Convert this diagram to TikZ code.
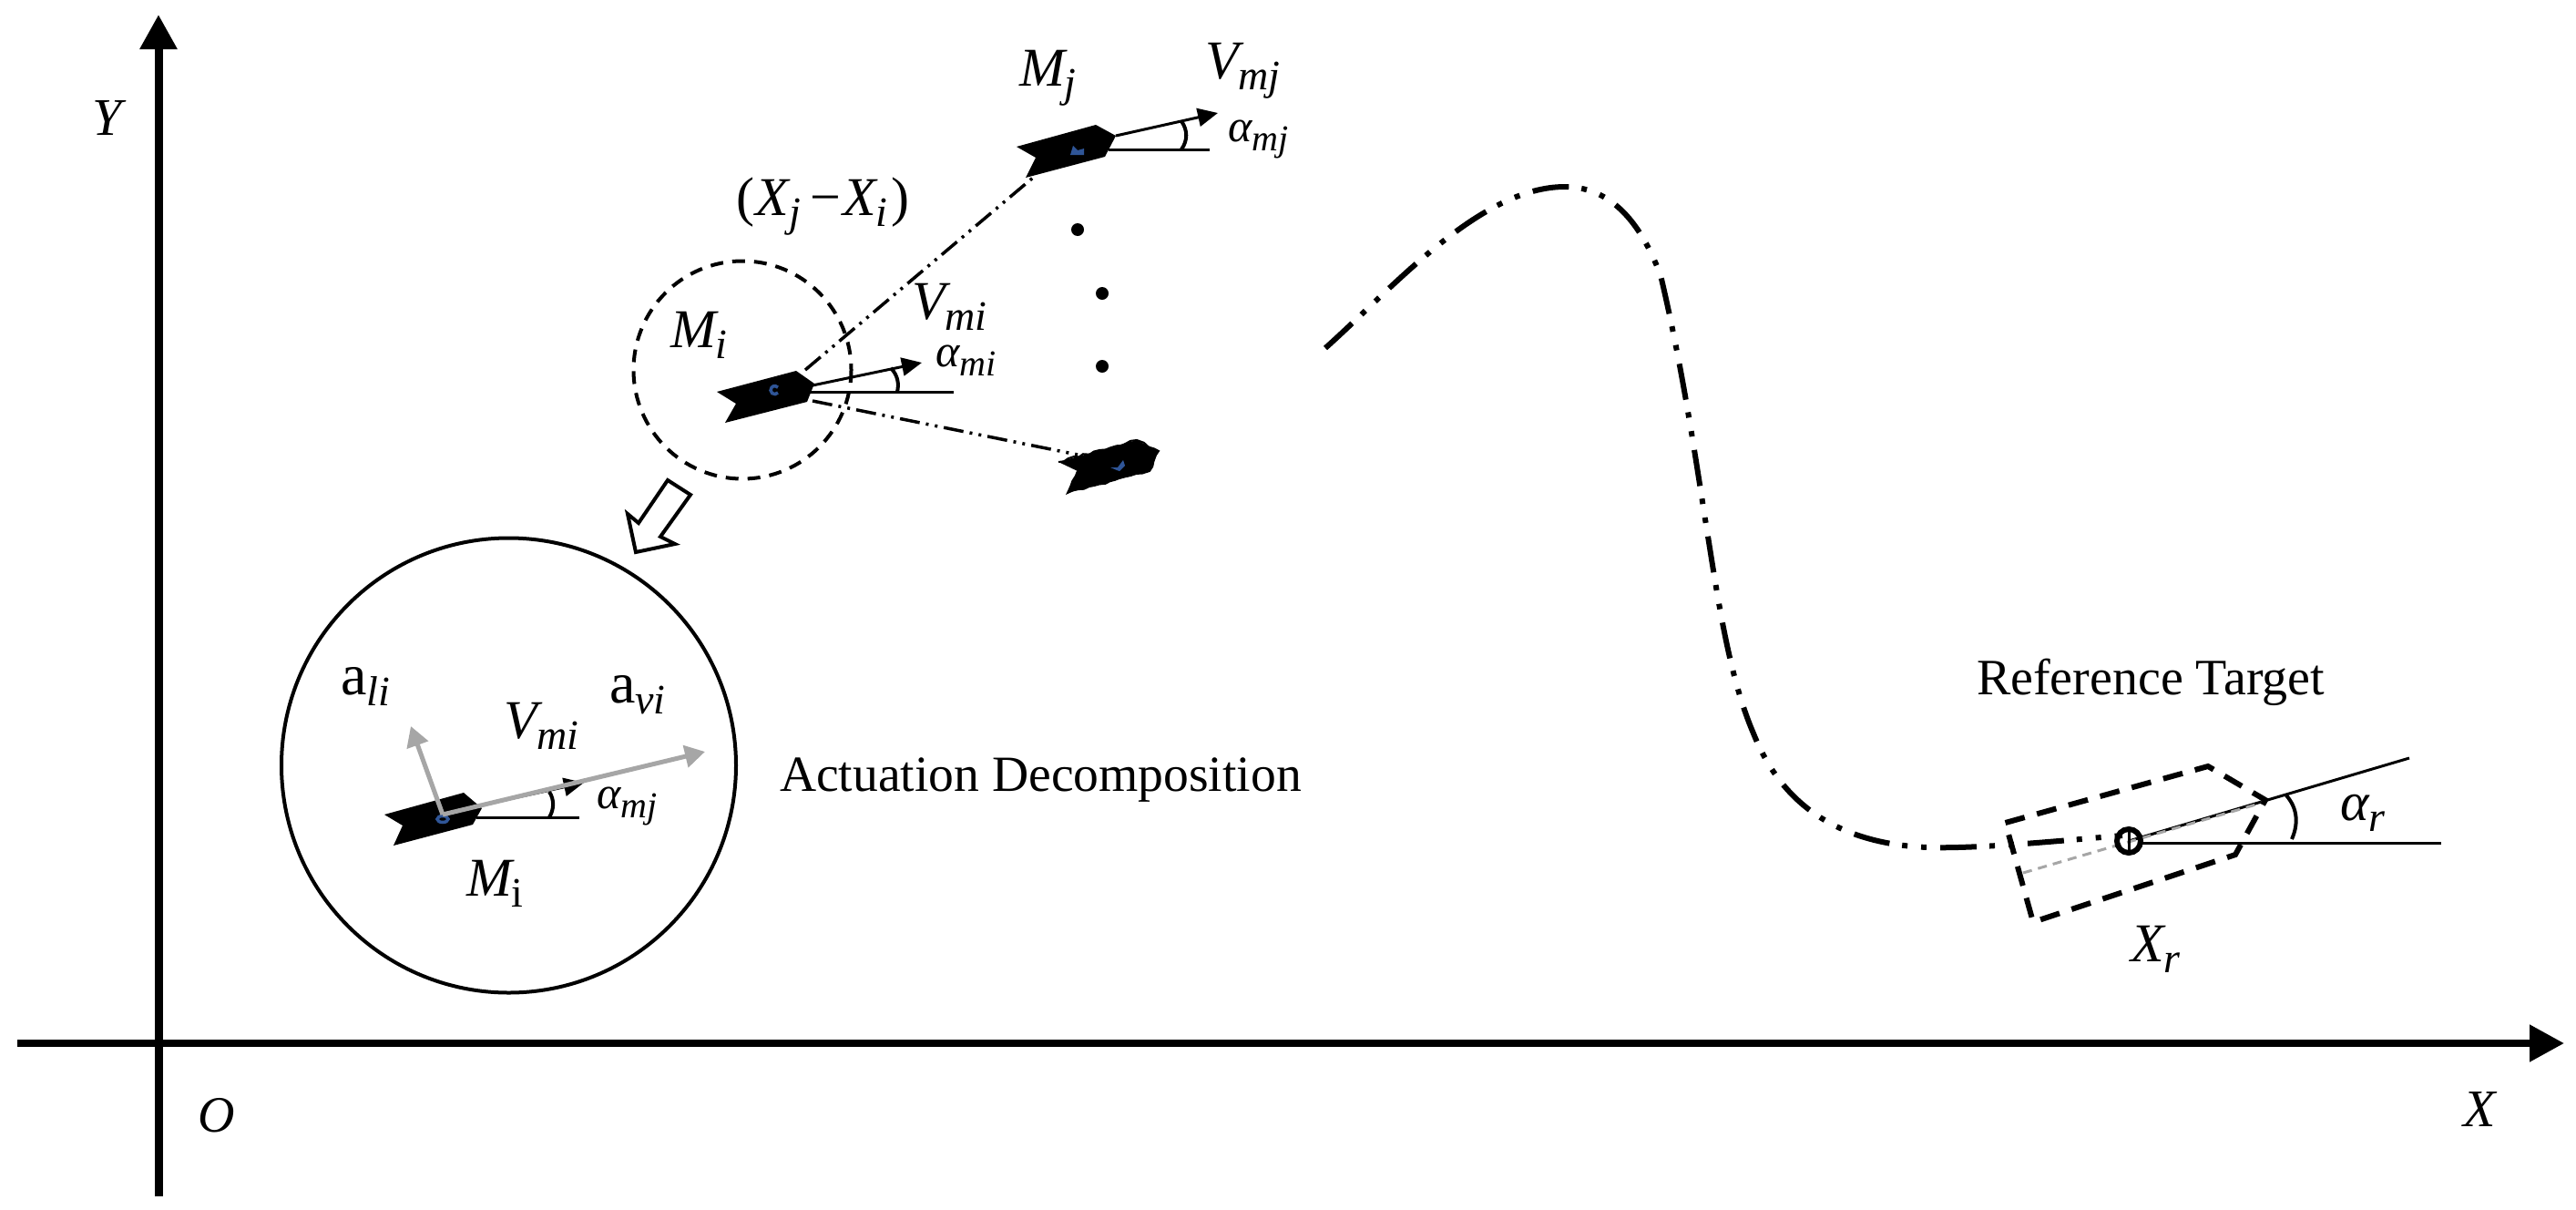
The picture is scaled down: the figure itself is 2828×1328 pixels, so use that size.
\documentclass[tikz,border=0pt]{standalone}
\usepackage{fontspec}
\setmainfont{Liberation Serif}
\usetikzlibrary{arrows.meta,decorations.pathmorphing}
\newcommand{\SzB}{\fontsize{30}{30}\selectfont}
\newcommand{\SzM}{\fontsize{25}{25}\selectfont}
\newcommand{\SzSb}{\fontsize{23}{23}\selectfont}
\newcommand{\SzSs}{\fontsize{20}{20}\selectfont}
\newcommand{\LblB}[2]{{\SzB\itshape #1\raisebox{-6pt}{\SzSb #2}}}
\newcommand{\LblS}[2]{{\SzM\itshape #1\raisebox{-5pt}{\SzSs #2}}}
\definecolor{shipblue}{HTML}{2F5597}
\definecolor{arrowgray}{HTML}{A6A6A6}
\tikzset{
  lab/.style={anchor=base west,inner sep=0pt,outer sep=0pt,text=black},
  axisline/.style={line width=4pt,-{Triangle[length=19pt,width=19.5pt]}},
  vecline/.style={line width=1.5pt,-{Triangle[length=11pt,width=10pt]}},
  grayvec/.style={line width=2.5pt,arrowgray,-{Triangle[length=11pt,width=12pt]}},
  refline/.style={line width=1.5pt},
  anglearc/.style={line width=2pt},
  linkline/.style={line width=1.75pt,dash pattern=on 11pt off 3.5pt on 1.5pt off 3.5pt on 1.5pt off 3.5pt},
  trajline/.style={line width=3pt,dash pattern=on 20pt off 7pt on 3pt off 7.5pt on 3pt off 7.5pt},
  shipbody/.style={fill=black,draw=none},
  boxdash/.style={line width=3pt,dash pattern=on 11pt off 7pt},
  circdash/.style={line width=2pt,dash pattern=on 7pt off 5pt},
}
\begin{document}
\begin{tikzpicture}[x=0.5pt,y=-0.5pt]
\useasboundingbox (0,0) rectangle (2828,1328);
\fill[white] (0,0) rectangle (2828,1328);
% axes
\coordinate (xs) at (19,1145); \coordinate (xe) at (2815,1145);
\coordinate (ys) at (174,1313); \coordinate (ye) at (174,16);
\draw[axisline] (xs) -- (xe);
\draw[axisline,line width=4.5pt] (ys) -- (ye);
\node[lab] (ylab) at (101,148) {\fontsize{29}{29}\selectfont\itshape Y};
\node[lab] (xlab) at (2704,1236) {\fontsize{29}{29}\selectfont\itshape X};
\node[lab] (olab) at (217,1242) {\fontsize{28}{28}\selectfont\itshape O};
% ship j
\fill[shipbody] (1116,161) -- (1137,173) -- (1126,195) -- (1213,172) -- (1225,149) -- (1203,137) -- cycle;
\fill[shipblue] (1175,170) -- (1190,170) -- (1190,163) -- (1183,165) -- (1178,160) -- cycle;
\coordinate (jnose) at (1225,149); \coordinate (jtip) at (1337,124);
\coordinate (jtail) at (1134,195); \coordinate (jref) at (1217,164); \coordinate (jrefe) at (1328,164);
\draw[vecline] (jnose) -- (jtip);
\draw[refline] (jref) -- (jrefe);
\draw[anglearc] (1297,133) .. controls (1304,143) and (1304,154) .. (1297,164);
\node[lab] (mj) at (1119,94) {\LblB{M}{j}};
\node[lab] (vmj) at (1323,86) {\LblB{V}{mj}};
\node[lab] (amj) at (1348,155) {\LblS{α}{mj}};
% dots
\fill (1183,252) circle (7);
\fill (1210,322) circle (7);
\fill (1210,402) circle (7);
\node[lab] (xji) at (808,236) {\SzB (\kern1pt{\itshape X\raisebox{-6pt}{\SzSb j}}\kern5pt−\kern1pt{\itshape X\raisebox{-6pt}{\SzSb i}}\kern2pt)};
% ship i
\draw[circdash] (815,406) circle (119.5);
\fill[shipbody] (787,430) -- (808,443) -- (796,464) -- (886,441) -- (894,421) -- (874,407) -- cycle;
\draw[shipblue,line width=1.75pt] (854,431) arc (40:320:4.5);
\coordinate (inose) at (892,423); \coordinate (itip) at (1012,398);
\coordinate (itop) at (884,406); \coordinate (ibot) at (892,440);
\coordinate (iref) at (887,430); \coordinate (irefe) at (1047,430);
\draw[vecline] (inose) -- (itip);
\draw[refline] (iref) -- (irefe);
\draw[anglearc] (978,404) .. controls (986,412) and (987,422) .. (985,430);
\node[lab] (mi) at (736,381) {\LblB{M}{i}};
\node[lab] (vmi) at (1001,350) {\LblB{V}{mi}};
\node[lab] (ami) at (1027,402) {\LblS{α}{mi}};
\draw[linkline] (itop) -- (jtail);
% third ship
\coordinate (kend) at (1183,499);
\draw[linkline] (ibot) -- (kend);
\fill[shipbody] (1162,507) -- (1183,517) -- (1172,541) -- (1262,517) -- (1272,495) -- (1248,483) -- cycle;
\pgfmathsetseed{7}
\draw[black,line width=1pt,decorate,decoration={random steps,segment length=3pt,amplitude=0.6pt}] (1183,517) -- (1172,541) -- (1262,517) -- (1272,495) -- (1248,483) -- (1162,507);
\fill[shipblue] (1219,513) -- (1227,513) -- (1233,505) -- (1235,511) -- (1229,517) -- (1226,516) -- cycle;
% block arrow
\draw[line width=2pt,fill=white,line join=miter] (733,527) -- (758,543) -- (725,589) -- (741,597) -- (698,606) -- (689,564) -- (701,574) -- cycle;
% big circle
\draw[line width=2pt] (558.5,840) circle (249.5);
\fill[shipbody] (422,894) -- (442,906) -- (432,928) -- (519,905) -- (529,887) -- (509,870) -- cycle;
\coordinate (bo) at (486,894); \coordinate (bnose) at (527,884); \coordinate (btip) at (641,859);
\coordinate (bref) at (523,897); \coordinate (brefe) at (636,897);
\coordinate (avtip) at (774,825); \coordinate (altip) at (451,797);
\draw[refline] (bref) -- (brefe);
\draw[anglearc] (603,869) .. controls (609,878) and (608,889) .. (603,897);
\draw[vecline] (bnose) -- (btip);
\draw[shipblue,line width=1.75pt] (486,899) ellipse (6 and 3.5);
\draw[grayvec] (bo) -- (avtip);
\draw[grayvec] (bo) -- (altip);
\node[lab] (ali) at (374,762) {{\fontsize{32}{32}\selectfont a}{\SzSb\itshape\raisebox{-6pt}{li}}};
\node[lab] (avi) at (669,771) {{\fontsize{32}{32}\selectfont a}{\SzSb\itshape\raisebox{-6pt}{vi}}};
\node[lab] (vmb) at (553,810) {\LblB{V}{mi}};
\node[lab] (amb) at (655,887) {\LblS{α}{mj}};
\node[lab] (mb) at (512,983) {{\SzB\itshape M}{\SzSb\raisebox{-6pt}{i}}};
\node[lab] (act) at (856,868) {\fontsize{27.8}{28}\selectfont Actuation Decomposition};
% trajectory
\draw[trajline] (1455,382) .. controls (1530,315) and (1625,205) .. (1718,205)
  .. controls (1775,205) and (1805,255) .. (1823,302)
  .. controls (1845,395) and (1858,480) .. (1872,570)
  .. controls (1885,650) and (1897,740) .. (1925,805)
  .. controls (1945,855) and (1990,925) .. (2116,930)
  .. controls (2170,932) and (2270,922) .. (2330,917);
% target
\coordinate (tc) at (2337,923); \coordinate (tl) at (2645,832); \coordinate (tr) at (2680,925); \coordinate (tc2) at (2349,925);
\coordinate (ga) at (2221,958); \coordinate (gb) at (2487,880);
\draw[refline] (tc) -- (tl);
\draw[refline] (tc2) -- (tr);
\draw[arrowgray,line width=1.5pt,dash pattern=on 5pt off 3.5pt] (ga) -- (gb);
\draw[boxdash] (2201.5,903) -- (2424,841) -- (2487,878) -- (2454,938) -- (2232,1012) -- cycle;
\draw[line width=3pt] (tc) circle (13);
\draw[line width=1.5pt] (2337,909) -- (2337,937);
\draw[anglearc] (2510,873) .. controls (2523,888) and (2523,905) .. (2516,921);
\node[lab] (ar) at (2569,900) {{\SzB\itshape α\raisebox{-6pt}{\SzSb r}}};
\node[lab] (xr) at (2339,1055) {\LblB{X}{r}};
\node[lab] (rt) at (2170,762) {\fontsize{28}{28}\selectfont Reference Target};
\end{tikzpicture}
\end{document}
